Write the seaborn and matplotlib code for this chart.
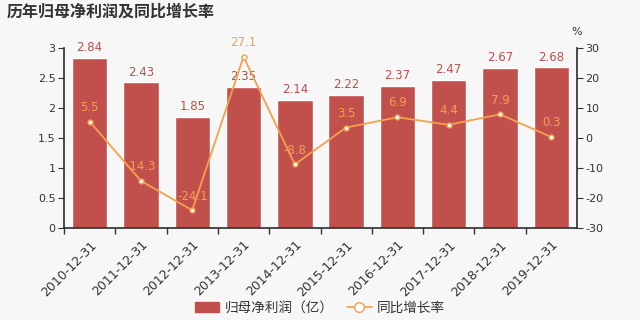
import matplotlib
matplotlib.use("Agg")
import matplotlib.pyplot as plt
import seaborn as sns
import pandas as pd
import numpy as np
from matplotlib.lines import Line2D
from matplotlib.patches import Patch

dates = ["2010-12-31", "2011-12-31", "2012-12-31", "2013-12-31", "2014-12-31",
         "2015-12-31", "2016-12-31", "2017-12-31", "2018-12-31", "2019-12-31"]
profit = [2.84, 2.43, 1.85, 2.35, 2.14, 2.22, 2.37, 2.47, 2.67, 2.68]
growth = [5.5, -14.3, -24.1, 27.1, -8.8, 3.5, 6.9, 4.4, 7.9, 0.3]
yticks_left = [0, 0.5, 1, 1.5, 2, 2.5, 3]
yticks_right = [-30, -20, -10, 0, 10, 20, 30]

sns.set_theme(style="white")
plt.rcParams['font.family'] = ['Noto Sans CJK SC', 'DejaVu Sans']
plt.rcParams['axes.unicode_minus'] = False

bg = "#f7f7f7"
bar_c = "#c1504d"
line_c = "#f4a04e"
txt = "#333333"

df = pd.DataFrame({"date": dates, "profit": profit, "growth": growth})

fig = plt.figure(figsize=(6.4, 3.2), dpi=100, facecolor=bg)
ax = fig.add_axes([64/640, 1-228/320, (577-64)/640, 180/320])
ax.set_facecolor(bg)
sns.barplot(data=df, x="date", y="profit", color=bar_c, width=0.69, ax=ax,
            saturation=1)
ax.set_ylim(0, 3)
ax.set_xlim(-0.5, 9.5)
ax.set_yticks(yticks_left)
ax.set_yticklabels([f"{v:g}" for v in yticks_left])
ax.set_xlabel("")
ax.set_ylabel("")
for i, v in enumerate(profit):
    ax.text(i, v + 0.06, f"{v:.2f}", ha="center", va="bottom", fontsize=8.5, color="#b5524d",
            family="DejaVu Sans")

ax2 = ax.twinx()
sns.lineplot(x=np.arange(len(dates)), y=growth, ax=ax2, color=line_c, lw=1.3,
             marker="o", markersize=3.5, markerfacecolor="white", markeredgecolor=line_c,
             markeredgewidth=1)
ax2.set_ylim(-30, 30)
ax2.set_yticks(yticks_right)
ax2.set_yticklabels([f"{v:g}" for v in yticks_right])
for i, v in enumerate(growth):
    ax2.text(i, v + 2.6, f"{v:g}", ha="center", va="bottom", fontsize=8.5, color=line_c,
             family="DejaVu Sans")
ax2.text(1.0, 1.06, "%", transform=ax2.transAxes, ha="center", va="bottom", fontsize=8, color=txt,
         family="DejaVu Sans")

for a in (ax, ax2):
    for s in ("top",):
        a.spines[s].set_visible(False)
    a.tick_params(axis="both", colors=txt, labelsize=8, length=4, width=0.8, direction="out")
    for lab in a.get_yticklabels():
        lab.set_family("DejaVu Sans")
ax.spines["right"].set_visible(False)
ax2.spines["left"].set_visible(False)
ax2.spines["bottom"].set_visible(False)
ax.spines["left"].set_color(txt)
ax.spines["bottom"].set_color(txt)
ax2.spines["right"].set_color(txt)
ax.tick_params(axis="y", left=True, pad=2)
ax2.tick_params(axis="y", right=True, pad=2)
ax.tick_params(axis="x", bottom=True)
ax.set_xticks(np.arange(len(dates)) - 0.5, minor=True)
ax.tick_params(axis="x", which="minor", bottom=True, length=4, color=txt)
ax.tick_params(axis="x", which="major", bottom=False)
ax.set_xticklabels(dates, rotation=45, ha="right", rotation_mode="anchor", fontsize=9,
                   family="DejaVu Sans")
ax.set_zorder(1)
ax2.set_zorder(2)
ax2.patch.set_visible(False)

fig.text(7/640, 1-12/320, "历年归母净利润及同比增长率", ha="left", va="center", fontsize=11.5,
         fontweight="bold", color="#333333")

handles = [Patch(facecolor=bar_c, edgecolor=bar_c),
           Line2D([0], [0], color=line_c, lw=1.2, marker="o", markersize=7,
                  markerfacecolor="white", markeredgecolor=line_c)]
fig.legend(handles, ["归母净利润（亿）", "同比增长率"], loc="center", bbox_to_anchor=(0.5, 1-308/320),
           ncol=2, frameon=False, fontsize=9.8, handlelength=1.8, handleheight=0.8,
           columnspacing=1.0, handletextpad=0.4, labelcolor=txt)

fig.savefig("out.png", dpi=100, facecolor=bg)
